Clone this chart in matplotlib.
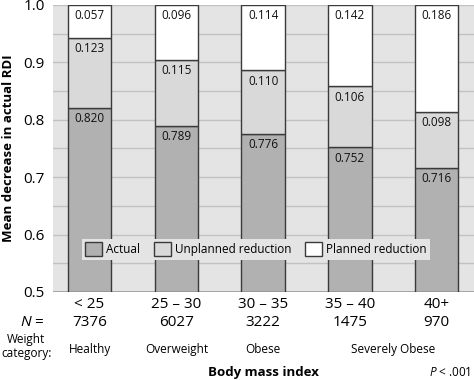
import numpy as np
import matplotlib.pyplot as plt

plt.rcParams['font.family'] = ['Open Sans', 'DejaVu Sans']
plt.rcParams['mathtext.fontset'] = 'custom'
plt.rcParams['mathtext.it'] = 'Open Sans:italic'
plt.rcParams['mathtext.rm'] = 'Open Sans'

bmi_labels = ['< 25', '25 – 30', '30 – 35', '35 – 40', '40+']
n_values = ['7376', '6027', '3222', '1475', '970']
actual = [0.820, 0.789, 0.776, 0.752, 0.716]
unplanned = [0.123, 0.115, 0.110, 0.106, 0.098]
planned = [0.057, 0.096, 0.114, 0.142, 0.186]

fig = plt.figure(figsize=(4.74, 3.80), dpi=100)
ax = fig.add_axes([0.112, 0.2316, 0.888, 0.7553])
ax.set_facecolor('#e4e4e4')

x = np.arange(len(actual))
w = 0.5
edge = '#3a3a3a'
base = 0.5
act_h = np.array(actual) - base
ax.bar(x, act_h, w, bottom=base, color='#b1b1b1', edgecolor=edge, lw=1, label='Actual', zorder=3)
ax.bar(x, unplanned, w, bottom=actual, color='#d9d9d9', edgecolor=edge, lw=1,
       label='Unplanned reduction', zorder=3)
top2 = np.array(actual) + np.array(unplanned)
ax.bar(x, planned, w, bottom=top2, color='white', edgecolor=edge, lw=1,
       label='Planned reduction', zorder=3)

# value labels near top of each segment
for i in range(len(x)):
    for val, top in [(actual[i], actual[i]), (unplanned[i], top2[i]), (planned[i], top2[i] + planned[i])]:
        ax.annotate('%.3f' % val, (x[i], top), xytext=(0, -3), textcoords='offset points',
                    ha='center', va='top', fontsize=8.5, color='#111111', zorder=4)

ax.set_ylim(0.5, 1.0)
ax.set_xlim(-0.42, 4.43)
ax.set_yticks(np.arange(0.5, 1.01, 0.1))
ax.set_yticks(np.arange(0.55, 1.0, 0.1), minor=True)
ax.grid(axis='y', which='both', color='#c2c2c2', lw=1, zorder=1)
ax.tick_params(axis='y', which='both', length=0, labelsize=11, pad=6)
ax.tick_params(axis='x', length=0)
ax.set_xticks([])
for s in ax.spines.values():
    s.set_visible(False)
ax.axhline(0.5, color='#9a9a9a', lw=1.2, zorder=2)
ax.set_ylabel('Mean decrease in actual RDI', fontsize=9.5, fontweight='bold', labelpad=6)

leg = ax.legend(loc='center', bbox_to_anchor=(0.482, 0.149), ncol=3, fontsize=8.5, frameon=True,
                facecolor='#e4e4e4', edgecolor='none', framealpha=1, fancybox=False,
                handlelength=1.4, handleheight=1.4, handletextpad=0.35, columnspacing=1.2,
                borderpad=0.3)
leg.set_zorder(5)

# rows below the axis
trans = ax.get_xaxis_transform()
for i in range(len(x)):
    ax.text(x[i], -0.042, bmi_labels[i], transform=trans, ha='center', va='center', fontsize=11)
    ax.text(x[i], -0.105, n_values[i], transform=trans, ha='center', va='center', fontsize=11)
ax.text(-0.52, -0.105, '$N$ =', transform=trans, ha='right', va='center', fontsize=11)

cats = [('Healthy', 0), ('Overweight', 1), ('Obese', 2), ('Severely Obese', 3.5)]
for name, pos in cats:
    ax.text(pos, -0.202, name, transform=trans, ha='center', va='center', fontsize=8.5)
fig.text(0.055, 0.088, 'Weight\ncategory:', ha='center', va='center', fontsize=8.5, linespacing=1.05)

fig.text(0.555, 0.021, 'Body mass index', ha='center', va='center', fontsize=9.5, fontweight='bold')
fig.text(0.994, 0.021, '$P$ < .001', ha='right', va='center', fontsize=8.5)

fig.savefig('out.png', dpi=100)
